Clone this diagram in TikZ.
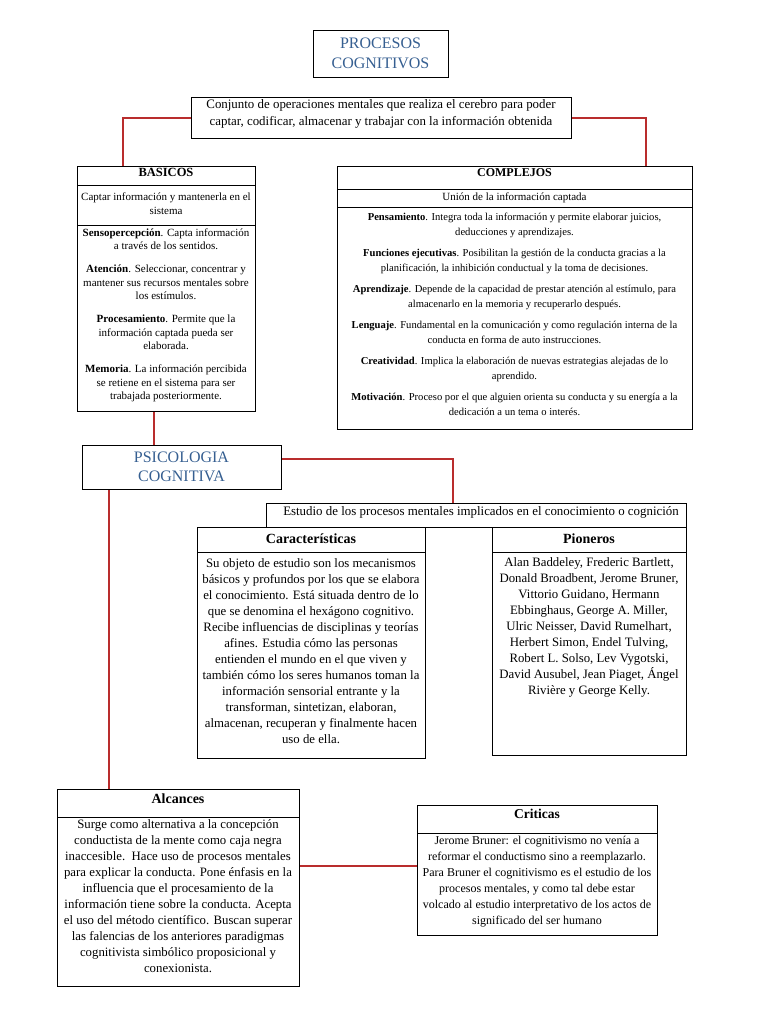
\documentclass[tikz,border=0pt]{standalone}
\usepackage{fontspec}
\setmainfont{Liberation Serif}
\definecolor{lnred}{RGB}{185,45,45}
\definecolor{ttblue}{RGB}{54,95,145}
\begin{document}
\begin{tikzpicture}[x=1pt,y=-1pt,
  box/.style={draw=black, line width=1pt, inner sep=0, anchor=north west},
  divider/.style={draw=black, line width=1pt},
  link/.style={draw=lnred, line width=1.8pt},
  txt/.style={inner sep=0, anchor=north, align=center},
  ttl/.style={txt, text=ttblue, font=\fontsize{16}{20}\selectfont},
]
\useasboundingbox (0,0) rectangle (768,1024);

% boxes
\node[box, minimum width=135pt, minimum height=47pt] (title) at (313,30) {};
\node[box, minimum width=380pt, minimum height=41pt] (def) at (191,97) {};
\node[box, minimum width=178pt, minimum height=245pt] (basicos) at (77,166) {};
\node[box, minimum width=355pt, minimum height=263pt] (complejos) at (337,166) {};
\node[box, minimum width=199pt, minimum height=44pt] (psico) at (82,445) {};
\node[box, minimum width=420pt, minimum height=24pt] (estudio) at (266,503) {};
\node[box, minimum width=228pt, minimum height=231pt] (caract) at (197,527) {};
\node[box, minimum width=194pt, minimum height=228pt] (pioneros) at (492,527) {};
\node[box, minimum width=242pt, minimum height=197pt] (alcances) at (57,789) {};
\node[box, minimum width=240pt, minimum height=130pt] (criticas) at (417,805) {};

% dividers
\draw[divider] ([yshift=-20pt]basicos.north west) -- ([yshift=-20pt]basicos.north east);
\draw[divider] ([yshift=-60pt]basicos.north west) -- ([yshift=-60pt]basicos.north east);
\draw[divider] ([yshift=-24pt]complejos.north west) -- ([yshift=-24pt]complejos.north east);
\draw[divider] ([yshift=-42pt]complejos.north west) -- ([yshift=-42pt]complejos.north east);
\draw[divider] ([yshift=-25pt]caract.north west) -- ([yshift=-25pt]caract.north east);
\draw[divider] ([yshift=-25pt]pioneros.north west) -- ([yshift=-25pt]pioneros.north east);
\draw[divider] ([yshift=-28pt]alcances.north west) -- ([yshift=-28pt]alcances.north east);
\draw[divider] ([yshift=-28pt]criticas.north west) -- ([yshift=-28pt]criticas.north east);

% connectors
\draw[link] (def.west) -| ([xshift=46pt]basicos.north west);
\draw[link] (def.east) -| ([xshift=-47pt]complejos.north east);
\draw[link] ([xshift=77pt]basicos.south west) -- ([xshift=72pt]psico.north west);
\draw[link] ([yshift=8.5pt]psico.east) -| ([xshift=187pt]estudio.north west);
\draw[link] ([xshift=27pt]psico.south west) -- ([xshift=52pt]alcances.north west);
\draw[link] ([yshift=4.5pt]alcances.east |- criticas.west) -- ([yshift=4.5pt]criticas.west);

% texts
\node[ttl] (titleT) at (380.5,34) {\strut PROCESOS\\COGNITIVOS};
\node[txt, font=\fontsize{12.9}{17}\selectfont] (defT) at (381,96.1)
  {\strut Conjunto de operaciones mentales que realiza el cerebro para poder\\captar, codificar, almacenar y trabajar con la información obtenida};

\node[txt, font=\bfseries\fontsize{12.5}{13}\selectfont] (basH) at (166,166.9) {\strut BASICOS};
\node[txt, font=\fontsize{11}{14}\selectfont] (basS) at (166,190.2)
  {\strut Captar información y mantenerla en el\\sistema};
\node[txt, font=\fontsize{11}{13.5}\selectfont] (basT) at (166,226.55)
  {\strut\textbf{Sensopercepción}. Capta información\\a través de los sentidos.\\[9.5pt]
   \textbf{Atención}. Seleccionar, concentrar y\\mantener sus recursos mentales sobre\\los estímulos.\\[9.5pt]
   \textbf{Procesamiento}. Permite que la\\información captada pueda ser\\elaborada.\\[9.5pt]
   \textbf{Memoria}. La información percibida\\se retiene en el sistema para ser\\trabajada posteriormente.};

\node[txt, font=\bfseries\fontsize{12}{13}\selectfont] (comH) at (514.5,166.9) {\strut COMPLEJOS};
\node[txt, font=\fontsize{11}{13}\selectfont] (comS) at (514.5,190.9) {\strut Unión de la información captada};
\node[txt, font=\fontsize{10.6}{14.5}\selectfont] (comT) at (514.5,210.35)
  {\strut\textbf{Pensamiento}. Integra toda la información y permite elaborar juicios,\\deducciones y aprendizajes.\\[7pt]
   \textbf{Funciones ejecutivas}. Posibilitan la gestión de la conducta gracias a la\\planificación, la inhibición conductual y la toma de decisiones.\\[7pt]
   \textbf{Aprendizaje}. Depende de la capacidad de prestar atención al estímulo, para\\almacenarlo en la memoria y recuperarlo después.\\[7pt]
   \textbf{Lenguaje}. Fundamental en la comunicación y como regulación interna de la\\conducta en forma de auto instrucciones.\\[7pt]
   \textbf{Creatividad}. Implica la elaboración de nuevas estrategias alejadas de lo\\aprendido.\\[7pt]
   \textbf{Motivación}. Proceso por el que alguien orienta su conducta y su energía a la\\dedicación a un tema o interés.};

\node[ttl, font=\fontsize{16}{19.5}\selectfont] (psicoT) at (181.5,448.35) {\strut PSICOLOGIA\\COGNITIVA};

\node[txt, font=\fontsize{12.9}{16}\selectfont] (estT) at (481,503.8)
  {\strut Estudio de los procesos mentales implicados en el conocimiento o cognición};

\node[txt, font=\bfseries\fontsize{14}{16}\selectfont] (carH) at (311,531.8) {\strut Características};
\node[txt, font=\fontsize{12.8}{16}\selectfont] (carT) at (311,555.8)
  {\strut Su objeto de estudio son los mecanismos\\básicos y profundos por los que se elabora\\el conocimiento. Está situada dentro de lo\\que se denomina el hexágono cognitivo.\\Recibe influencias de disciplinas y teorías\\afines. Estudia cómo las personas\\entienden el mundo en el que viven y\\también cómo los seres humanos toman la\\información sensorial entrante y la\\transforman, sintetizan, elaboran,\\almacenan, recuperan y finalmente hacen\\uso de ella.};

\node[txt, font=\bfseries\fontsize{14}{16}\selectfont] (pioH) at (589,531.8) {\strut Pioneros};
\node[txt, font=\fontsize{12.8}{16}\selectfont] (pioT) at (589,554.8)
  {\strut Alan Baddeley, Frederic Bartlett,\\Donald Broadbent, Jerome Bruner,\\Vittorio Guidano, Hermann\\Ebbinghaus, George A. Miller,\\Ulric Neisser, David Rumelhart,\\Herbert Simon, Endel Tulving,\\Robert L. Solso, Lev Vygotski,\\David Ausubel, Jean Piaget, Ángel\\Rivière y George Kelly.};

\node[txt, font=\bfseries\fontsize{14}{16}\selectfont] (alcH) at (178,791.8) {\strut Alcances};
\node[txt, font=\fontsize{12.8}{16}\selectfont] (alcT) at (178,816.8)
  {\strut Surge como alternativa a la concepción\\conductista de la mente como caja negra\\inaccesible.\ \ Hace uso de procesos mentales\\para explicar la conducta. Pone énfasis en la\\influencia que el procesamiento de la\\información tiene sobre la conducta. Acepta\\el uso del método científico. Buscan superar\\las falencias de los anteriores paradigmas\\cognitivista simbólico proposicional y\\conexionista.};

\node[txt, font=\bfseries\fontsize{13.5}{16}\selectfont] (criH) at (537,806.8) {\strut Criticas};
\node[txt, font=\fontsize{12}{16}\selectfont] (criT) at (537,832.8)
  {\strut Jerome Bruner: el cognitivismo no venía a\\reformar el conductismo sino a reemplazarlo.\\Para Bruner el cognitivismo es el estudio de los\\procesos mentales, y como tal debe estar\\volcado al estudio interpretativo de los actos de\\significado del ser humano};
\end{tikzpicture}
\end{document}
